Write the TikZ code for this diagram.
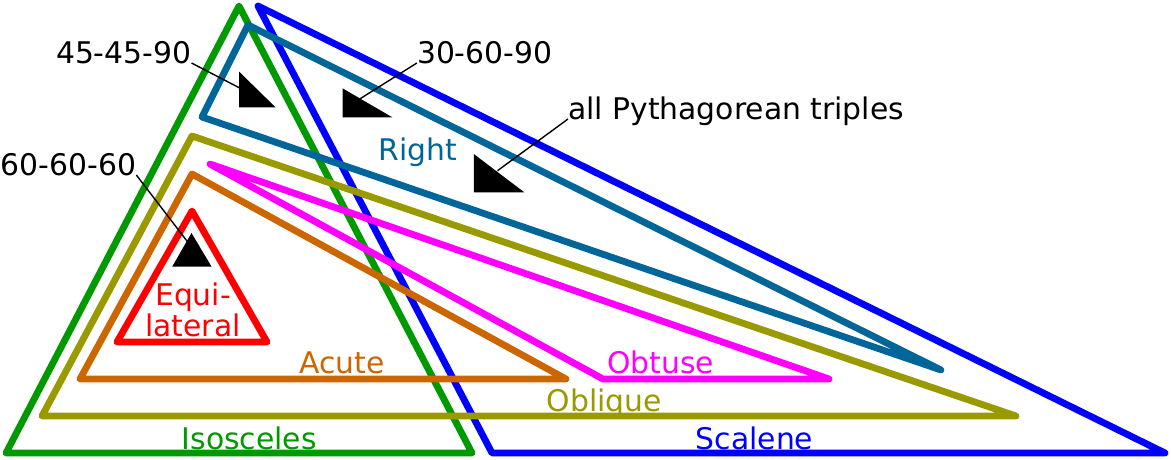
\documentclass[tikz,border=0pt]{standalone}
\usepackage{fontspec}
\setmainfont{DejaVu Sans}
\begin{document}
\begin{tikzpicture}[x=1pt,y=-1pt,
  tri/.style={line width=6.8pt,line join=round,line cap=round},
  lbl/.style={inner sep=0pt,font=\fontsize{29.8}{31.7}\selectfont},
  leader/.style={line width=1.4pt,black},
  example/.style={fill=black}]
\definecolor{cgreen}{RGB}{0,153,0}
\definecolor{cblue}{RGB}{0,0,255}
\definecolor{cteal}{RGB}{0,102,153}
\definecolor{colive}{RGB}{153,153,0}
\definecolor{corange}{RGB}{204,102,0}
\definecolor{cmag}{RGB}{255,0,255}
\definecolor{cred}{RGB}{255,0,0}
\useasboundingbox (0,0) rectangle (1171,459);
% class triangles
\draw[tri,cgreen] (239,6) -- (6,453) -- (472,453) -- cycle;
\draw[tri,cblue] (258,6) -- (492,453) -- (1165,453) -- cycle;
\draw[tri,cteal] (248,25) -- (202,117) -- (941,370) -- cycle;
\draw[tri,colive] (192,136) -- (42,416) -- (1016,416) -- cycle;
\draw[tri,corange] (192,174) -- (80,379) -- (566,379) -- cycle;
\draw[tri,cmag] (210,164) -- (603,379) -- (829,379) -- cycle;
\draw[tri,cred] (192,211) -- (117,342) -- (267,342) -- cycle;
% example triangles
\fill[example] (239.2,71.7) -- (239.2,107.3) -- (275.5,107.3) -- cycle;
\fill[example] (342.5,88.3) -- (342.5,117.3) -- (392.3,117.3) -- cycle;
\fill[example] (473.8,154) -- (473.8,192.3) -- (524.3,192.3) -- cycle;
\fill[example] (191.5,233) -- (172.2,266.7) -- (211.6,266.7) -- cycle;
\coordinate (t45) at (240.3,88.3);
\coordinate (t30) at (359.7,99);
\coordinate (tpy) at (497.5,170.7);
\coordinate (t60) at (187.5,241.7);
% labels
\node[lbl,anchor=base] (l45) at (123.7,63) {45-45-90};
\node[lbl,anchor=base] (l30) at (484.7,63) {30-60-90};
\node[lbl,anchor=base west] (lpy) at (568,119) {all Pythagorean triples};
\node[lbl,anchor=base] (l60) at (68.5,175) {60-60-60};
\node[lbl,anchor=base,text=cteal] (lright) at (417.7,160.7) {Right};
\node[lbl,align=center,text=cred] (lequi) at (193,310) {Equi-\\lateral};
\node[lbl,anchor=base,text=corange] (lacute) at (341.8,373) {Acute};
\node[lbl,anchor=base,text=cmag] (lobtuse) at (660.9,373) {Obtuse};
\node[lbl,anchor=base,text=colive] (loblique) at (604.4,411) {Oblique};
\node[lbl,anchor=base,text=cgreen] (liso) at (249.3,449) {Isosceles};
\node[lbl,anchor=base,text=cblue] (lscal) at (754.6,449) {Scalene};
% leaders
\draw[leader] (l45.base east) -- (t45);
\draw[leader] (l30.base west) -- (t30);
\draw[leader] (lpy.base west) -- (tpy);
\draw[leader] (l60.base east) -- (t60);
\end{tikzpicture}
\end{document}
